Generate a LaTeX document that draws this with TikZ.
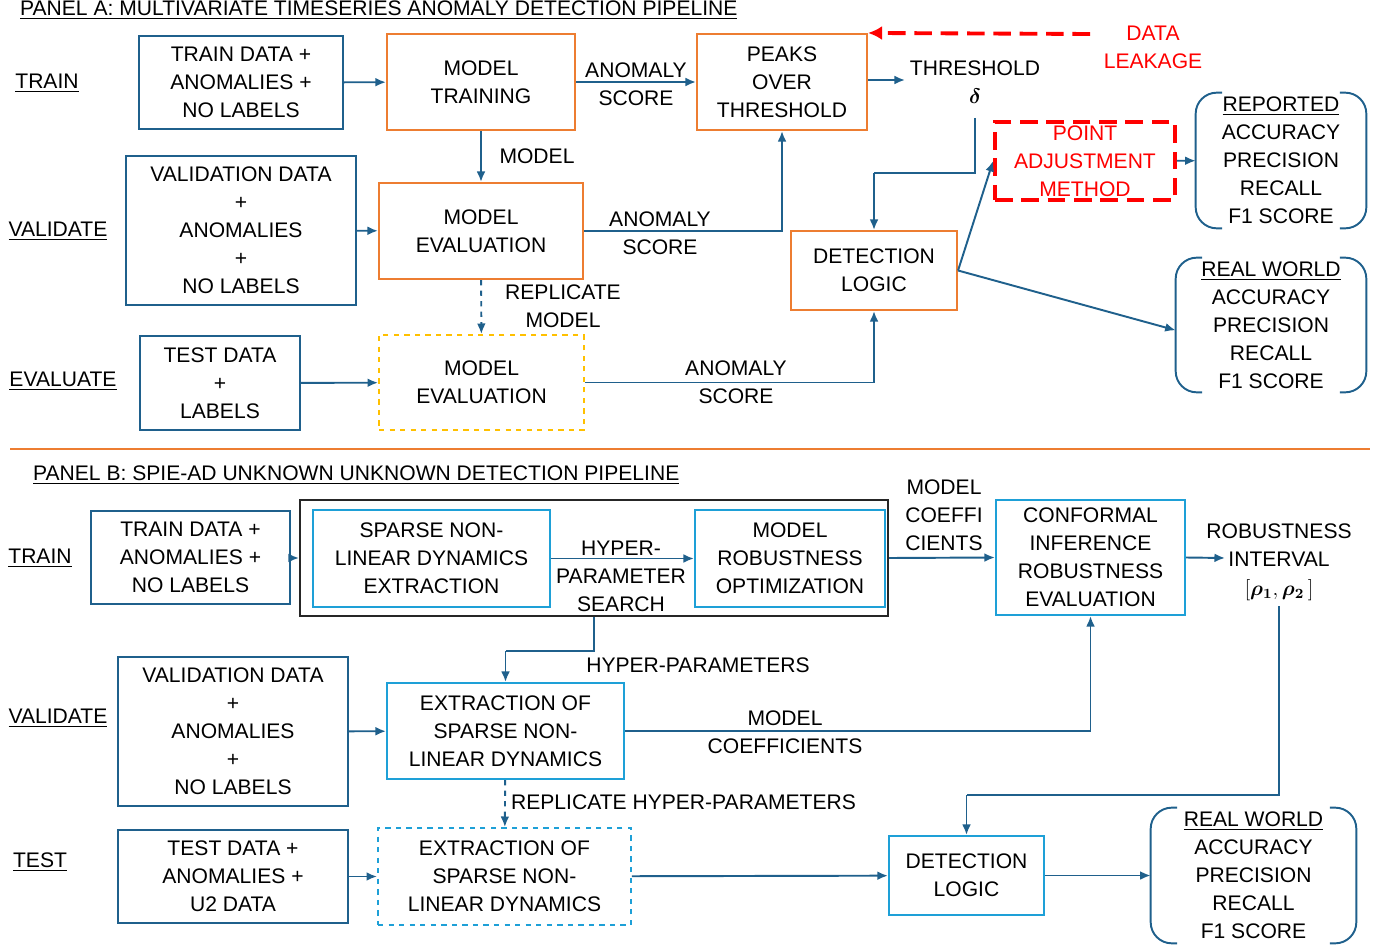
\documentclass[tikz,border=0pt]{standalone}
\usepackage{amsmath}
\usepackage{bm}
\usepackage{fontspec}
\setmainfont{Liberation Sans}
\usetikzlibrary{arrows.meta}
\definecolor{orng}{RGB}{237,125,49}
\definecolor{lnk}{RGB}{31,96,140}
\definecolor{bbl}{RGB}{30,160,215}
\definecolor{ylw}{RGB}{255,192,0}
\definecolor{rd}{RGB}{255,0,0}
\begin{document}
\begin{tikzpicture}[x=0.02cm,y=-0.02cm,
  every node/.style={font=\fontsize{12}{16}\selectfont, align=center, inner sep=1pt},
  box/.style={draw=lnk, line width=0.8pt},
  obox/.style={draw=orng, line width=1.2pt},
  bbox/.style={draw=bbl, line width=1.2pt},
  conn/.style={draw=lnk, line width=1.1pt, -{Latex[length=6pt,width=5pt]}},
  seg/.style={draw=lnk, line width=1.1pt},
  brk/.style={draw=lnk, line width=1.1pt, rounded corners=12pt}]
\useasboundingbox (0,0) rectangle (1373,946);
% Panel A
\node[anchor=west] (ta) at (18,10) {\underline{PANEL A: MULTIVARIATE TIMESERIES ANOMALY DETECTION PIPELINE}};
\node (lA1) at (47,83) {\underline{TRAIN}};
\node (lA2) at (58,231) {\underline{VALIDATE}};
\node (lA3) at (63,381) {\underline{EVALUATE}};
\node[box, minimum width=4.08cm, minimum height=1.86cm] (trainA) at (241,82.5) {TRAIN DATA +\\ANOMALIES +\\NO LABELS};
\node[obox, minimum width=3.76cm, minimum height=1.92cm] (mtA) at (481,82) {MODEL\\TRAINING};
\node[obox, minimum width=3.4cm, minimum height=1.92cm] (potA) at (782,82) {PEAKS\\OVER\\THRESHOLD};
\node[draw=rd, dashed, line width=2.2pt, dash pattern=on 10pt off 5pt, minimum width=3.6cm, minimum height=1.56cm, text=rd] (pam) at (1085,161) {POINT\\ADJUSTMENT\\METHOD};
\node[minimum width=3.4cm, minimum height=2.7cm] (rep) at (1281,160.5) {\underline{REPORTED}\\ACCURACY\\PRECISION\\RECALL\\F1 SCORE};
\node[box, minimum width=4.6cm, minimum height=2.98cm] (valA) at (241,230.5) {VALIDATION DATA\\+\\ANOMALIES\\+\\NO LABELS};
\node[obox, minimum width=4.08cm, minimum height=1.92cm] (meA) at (481,231) {MODEL\\EVALUATION};
\node[obox, minimum width=3.32cm, minimum height=1.58cm] (dl) at (874,270.5) {DETECTION\\LOGIC};
\node[minimum width=3.8cm, minimum height=2.68cm] (rw) at (1271,325) {\underline{REAL WORLD}\\ACCURACY\\PRECISION\\RECALL\\F1 SCORE};
\node[box, minimum width=3.2cm, minimum height=1.88cm] (testA) at (220,383) {TEST DATA\\+\\LABELS};
\node[draw=ylw, dashed, line width=1.1pt, minimum width=4.1cm, minimum height=1.9cm] (meE) at (481.5,382.5) {MODEL\\EVALUATION};
\foreach \n in {rep,rw}{
  \draw[brk] ([xshift=15pt]\n.north west) -- (\n.north west) -- (\n.south west) -- ([xshift=15pt]\n.south west);
  \draw[brk] ([xshift=-15pt]\n.north east) -- (\n.north east) -- (\n.south east) -- ([xshift=-15pt]\n.south east);}
\node (asA) at (636,84) {ANOMALY\\SCORE};
\node (thr) at (975,68) {THRESHOLD};
\node (del) at (975,96) {$\bm{\delta}$};
\node[text=rd] (leak) at (1153,47) {DATA\\LEAKAGE};
\node (mlab) at (537,156) {MODEL};
\node (asA2) at (660,233) {ANOMALY\\SCORE};
\node (rep1) at (563,306) {REPLICATE\\MODEL};
\node (asA3) at (736,382) {ANOMALY\\SCORE};
\coordinate (thrp) at (905,80);
\coordinate (dtop) at (975,118);
\coordinate (lk) at (1090,34);
\draw[conn] (trainA) -- (mtA);
\draw[conn] (mtA) -- (potA);
\draw[conn] (potA.east |- thrp) -- (thrp);
\draw[conn, draw=rd, line width=2.2pt, dash pattern=on 10pt off 5pt, -{Latex[length=8pt,width=8pt]}] (lk) -- (potA.north east);
\draw[conn] (pam) -- (rep);
\draw[conn] (valA) -- (meA);
\draw[conn] (mtA) -- (meA);
\draw[conn] (meA.east) -| (potA.south);
\draw[seg] (dtop) -- (975,173) -- (874,173);
\draw[conn] (874,173) -- (dl.north);
\draw[conn] (dl.east) -- (pam.west);
\draw[conn] (dl.east) -- ([yshift=-3pt]rw.west);
\draw[conn, dashed] (meA) -- (meE);
\draw[conn] (testA) -- (meE);
\draw[conn] (meE.east) -| (dl.south);
\draw[orng, line width=1.2pt] (10,449) -- (1370,449);
% Panel B
\node[anchor=west] (tb) at (31,475) {\underline{PANEL B: SPIE-AD UNKNOWN UNKNOWN DETECTION PIPELINE}};
\node (lB1) at (40,558) {\underline{TRAIN}};
\node (lB2) at (58,718) {\underline{VALIDATE}};
\node (lB3) at (40,862) {\underline{TEST}};
\node[box, minimum width=3.98cm, minimum height=1.86cm] (trainB) at (190.5,557.5) {TRAIN DATA +\\ANOMALIES +\\NO LABELS};
\node[draw=black!85, line width=1.2pt, minimum width=11.76cm, minimum height=2.32cm] (big) at (594,558) {};
\node[bbox, minimum width=4.74cm, minimum height=1.94cm] (sp) at (431.5,558.5) {SPARSE NON-\\LINEAR DYNAMICS\\EXTRACTION};
\node[bbox, minimum width=3.8cm, minimum height=1.94cm] (mro) at (790,558.5) {MODEL\\ROBUSTNESS\\OPTIMIZATION};
\node[bbox, minimum width=3.78cm, minimum height=2.3cm] (ci) at (1090.5,557.5) {CONFORMAL\\INFERENCE\\ROBUSTNESS\\EVALUATION};
\node[box, minimum width=4.6cm, minimum height=2.98cm] (valB) at (233,731.5) {VALIDATION DATA\\+\\ANOMALIES\\+\\NO LABELS};
\node[bbox, minimum width=4.74cm, minimum height=1.92cm] (ext) at (505.5,731) {EXTRACTION OF\\SPARSE NON-\\LINEAR DYNAMICS};
\node[box, minimum width=4.6cm, minimum height=1.86cm] (testB) at (233,876.5) {TEST DATA +\\ANOMALIES +\\U2 DATA};
\node[draw=bbl, dashed, line width=1.1pt, minimum width=5.06cm, minimum height=1.94cm] (extT) at (504.5,876.5) {EXTRACTION OF\\SPARSE NON-\\LINEAR DYNAMICS};
\node[bbox, minimum width=3.1cm, minimum height=1.58cm] (dlB) at (966.5,875.5) {DETECTION\\LOGIC};
\node[minimum width=4.1cm, minimum height=2.7cm] (rwB) at (1253.5,875.5) {\underline{REAL WORLD}\\ACCURACY\\PRECISION\\RECALL\\F1 SCORE};
\draw[brk] ([xshift=15pt]rwB.north west) -- (rwB.north west) -- (rwB.south west) -- ([xshift=15pt]rwB.south west);
\draw[brk] ([xshift=-15pt]rwB.north east) -- (rwB.north east) -- (rwB.south east) -- ([xshift=-15pt]rwB.south east);
\node (hps) at (621,576) {HYPER-\\PARAMETER\\SEARCH};
\node (mcc) at (944,515) {MODEL\\COEFFI\\CIENTS};
\node (ri) at (1279,545) {ROBUSTNESS\\INTERVAL};
\node (rho) at (1279,590) {$[\bm{\rho_1},\bm{\rho_2}\,]$};
\node (hp) at (698,665) {HYPER-PARAMETERS};
\node (mc2) at (785,732) {MODEL\\COEFFICIENTS};
\node[anchor=west] (rhp) at (509,802) {REPLICATE HYPER-PARAMETERS};
\coordinate (rip) at (1225,558);
\coordinate (rbot) at (1279,606);
\draw[conn] (trainB) -- (big.west);
\draw[conn] (sp.east) -- (mro.west);
\draw[conn] (big.east) -- (ci.west);
\draw[conn] (ci.east) -- (rip);
\draw[seg] (big.south) -- (594,651) -- (505.5,651);
\draw[conn] (505.5,651) -- (ext.north);
\draw[conn] (valB) -- (ext);
\draw[conn] (ext.east) -| (ci.south);
\draw[conn, dashed] (ext) -- (extT);
\draw[conn] (testB) -- (extT);
\draw[conn] (extT) -- (dlB);
\draw[conn] (dlB) -- (rwB);
\draw[seg] (rbot) -- (1279,795) -- (966.5,795);
\draw[conn] (966.5,795) -- (dlB.north);
\end{tikzpicture}
\end{document}
